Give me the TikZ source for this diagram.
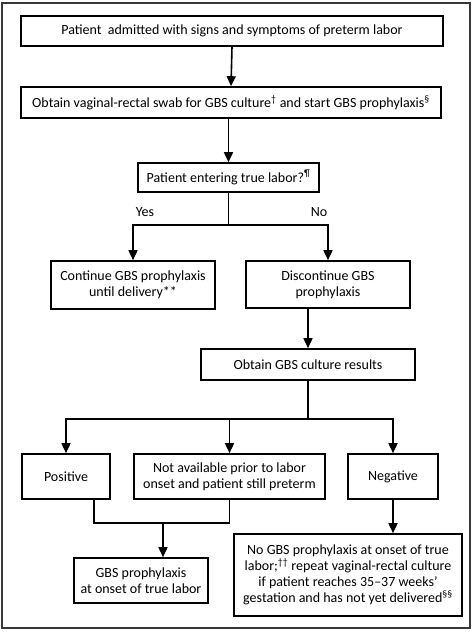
\documentclass[tikz,border=0pt]{standalone}
\usepackage{fontspec}
\setmainfont{Carlito}
\usepackage{tikz}
\usetikzlibrary{arrows.meta}

\begin{document}
\begin{tikzpicture}[x=1pt,y=1pt,
  font=\fontsize{14}{16}\selectfont,
  flowbox/.style={draw=drawColor,line width=1.6pt,align=center,inner sep=0pt},
  flowline/.style={draw=drawColor,line width=1.6pt},
  flowarrow/.style={flowline,-{Triangle[width=9pt,length=10pt]}}]
\definecolor{fillColor}{RGB}{255,255,255}
\definecolor{drawColor}{RGB}{0,0,0}
\definecolor{frameColor}{gray}{0.22}
\path[use as bounding box,fill=fillColor] (0,0) rectangle (474,633);

\path[draw=frameColor,line width=2pt] (  1.50,  5.00) rectangle (470.00,629.50);

\node[flowbox,minimum width=422,minimum height=30] (admit) at (232.0,602.0) {Patient\ \ admitted with signs and symptoms of preterm labor};

\node[flowbox,minimum width=420,minimum height=31] (swab) at (231.0,530.5) {Obtain vaginal-rectal swab for GBS culture\textsuperscript{†} and start GBS prophylaxis\textsuperscript{§}};

\node[flowbox,minimum width=181,minimum height=29] (labor) at (228.5,455.5) {Patient entering true labor?\textsuperscript{¶}};

\node[flowbox,minimum width=164,minimum height=48] (cont) at (133.0,348.0) {Continue GBS prophylaxis\\until delivery**};

\node[flowbox,minimum width=164,minimum height=47] (disc) at (328.0,348.5) {Discontinue GBS\\prophylaxis};

\node[flowbox,minimum width=214,minimum height=31] (result) at (308.0,268.5) {Obtain GBS culture results};

\node[flowbox,minimum width=88,minimum height=45] (pos) at ( 66.0,156.5) {Positive};

\node[flowbox,minimum width=191,minimum height=45] (na) at (229.5,156.5) {Not available prior to labor\\onset and patient still preterm};

\node[flowbox,minimum width=90,minimum height=45] (neg) at (393.0,156.5) {Negative};

\node[flowbox,minimum width=134,minimum height=45] (proph) at (141.0, 52.5) {GBS prophylaxis\\at onset of true labor};

\node[flowbox,minimum width=228,minimum height=82] (noproph) at (348.0, 58.0) {No GBS prophylaxis at onset of true\\labor;\textsuperscript{††} repeat vaginal-rectal culture\\if patient reaches 35–37 weeks’\\gestation and has not yet delivered\textsuperscript{§§}};

\node[anchor=center] (yes) at (145.0,421.0) {Yes};

\node[anchor=center] (no) at (319.0,421.0) {No};

\draw[flowarrow] (admit.south) -- (swab.north);

\draw[flowarrow] (labor.north |- swab.south) -- (labor.north);

\draw[flowline] (labor.south) -- ++(0,-32) coordinate (fork1);

\draw[flowarrow] (fork1) -| (cont.north);

\draw[flowarrow] (fork1) -| (disc.north);

\draw[flowarrow] (result.north |- disc.south) -- (result.north);

\draw[flowline] (result.south) -- ++(0,-38.5) coordinate (fork2);

\draw[flowarrow] (fork2) -| (pos.north);

\draw[flowarrow] (fork2) -| (na.north);

\draw[flowarrow] (fork2) -| (neg.north);

\coordinate (join) at (163.0,110.0);

\draw[flowline] ([xshift=28pt]pos.south) |- (join) -| (na.south);

\draw[flowarrow] (join) -- (join |- proph.north);

\draw[flowarrow] (neg.south) -- (neg.south |- noproph.north);
\end{tikzpicture}
\end{document}
